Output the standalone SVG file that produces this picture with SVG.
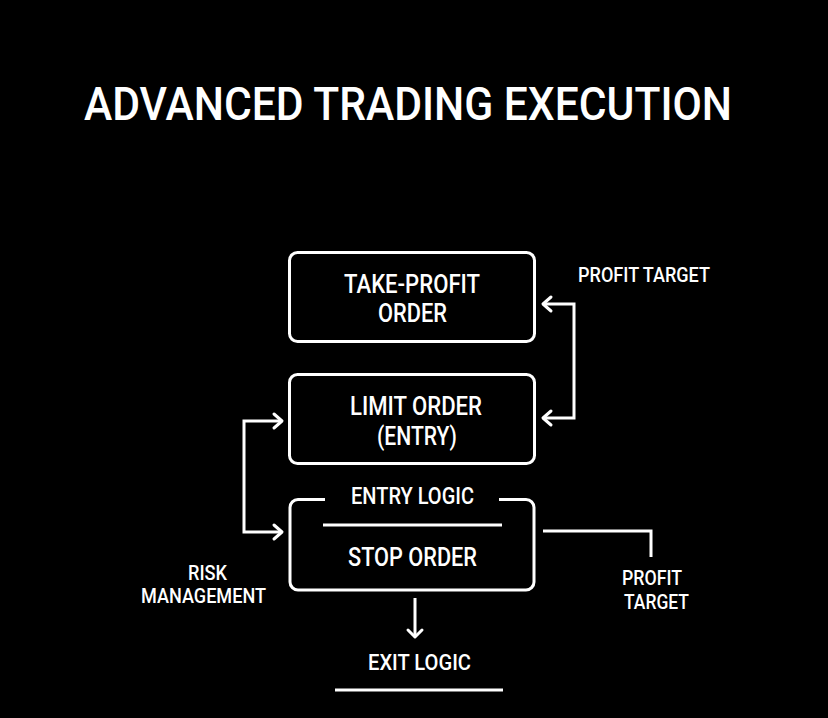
<svg xmlns="http://www.w3.org/2000/svg" width="828" height="718" viewBox="0 0 828 718">
<defs>
<style>
.t{font-family:Roboto,"Liberation Sans",sans-serif;fill:#fff;font-weight:500}
.box{fill:none;stroke:#fff;stroke-width:3}
.ln{fill:none;stroke:#fff;stroke-width:3;stroke-linejoin:miter}
.ah{fill:none;stroke:#fff;stroke-width:3;stroke-linecap:round;stroke-linejoin:round}
</style>
</defs>
<rect width="828" height="718" fill="#000"/>
<text class="t" x="84" y="120" font-size="46" font-weight="700" textLength="648" lengthAdjust="spacingAndGlyphs">ADVANCED TRADING EXECUTION</text>

<g id="take-profit">
<rect class="box" x="289.5" y="252.5" width="245" height="89" rx="8"/>
<text class="t" x="344" y="293" font-size="25" textLength="136" lengthAdjust="spacingAndGlyphs">TAKE-PROFIT</text>
<text class="t" x="378" y="322" font-size="25" textLength="69" lengthAdjust="spacingAndGlyphs">ORDER</text>
</g>

<g id="limit-order">
<rect class="box" x="289.5" y="374.5" width="245" height="89" rx="8"/>
<text class="t" x="350" y="415" font-size="25" textLength="132" lengthAdjust="spacingAndGlyphs">LIMIT ORDER</text>
<text class="t" x="377" y="445" font-size="25" textLength="80" lengthAdjust="spacingAndGlyphs">(ENTRY)</text>
</g>

<g id="stop-order">
<path class="box" d="M325 499.5 H298 A8 8 0 0 0 290 507.5 V582 A8 8 0 0 0 298 590 H526 A8 8 0 0 0 534 582 V507.5 A8 8 0 0 0 526 499.5 H499"/>
<text class="t" x="351" y="504" font-size="23" textLength="123" lengthAdjust="spacingAndGlyphs">ENTRY LOGIC</text>
<line class="ln" x1="323" y1="525" x2="502" y2="525"/>
<text class="t" x="348" y="566" font-size="25" textLength="129" lengthAdjust="spacingAndGlyphs">STOP ORDER</text>
</g>

<g id="exit-logic">
<text class="t" x="368" y="670" font-size="22" textLength="103" lengthAdjust="spacingAndGlyphs">EXIT LOGIC</text>
<line class="ln" x1="335" y1="690" x2="503" y2="690"/>
</g>

<g id="labels">
<text class="t" x="578" y="282" font-size="20" textLength="132" lengthAdjust="spacingAndGlyphs">PROFIT TARGET</text>
<text class="t" x="188" y="580" font-size="20" textLength="39" lengthAdjust="spacingAndGlyphs">RISK</text>
<text class="t" x="141" y="603" font-size="20" textLength="125" lengthAdjust="spacingAndGlyphs">MANAGEMENT</text>
<text class="t" x="622" y="585" font-size="20" textLength="60" lengthAdjust="spacingAndGlyphs">PROFIT</text>
<text class="t" x="624" y="609" font-size="20" textLength="65" lengthAdjust="spacingAndGlyphs">TARGET</text>
</g>

<g id="connectors">
<path class="ln" d="M282 421 H244 V532 H282"/>
<path class="ah" d="M274 414 L282 421 L274 428"/>
<path class="ah" d="M274 525 L282 532 L274 539"/>
<path class="ln" d="M543 304 H574 V418 H543"/>
<path class="ah" d="M551 297 L543 304 L551 311"/>
<path class="ah" d="M551 411 L543 418 L551 425"/>
<path class="ln" d="M543 531 H651 V557"/>
<path class="ln" d="M415 598 V637"/>
<path class="ah" d="M408 630 L415 637 L422 630"/>
</g>
</svg>
